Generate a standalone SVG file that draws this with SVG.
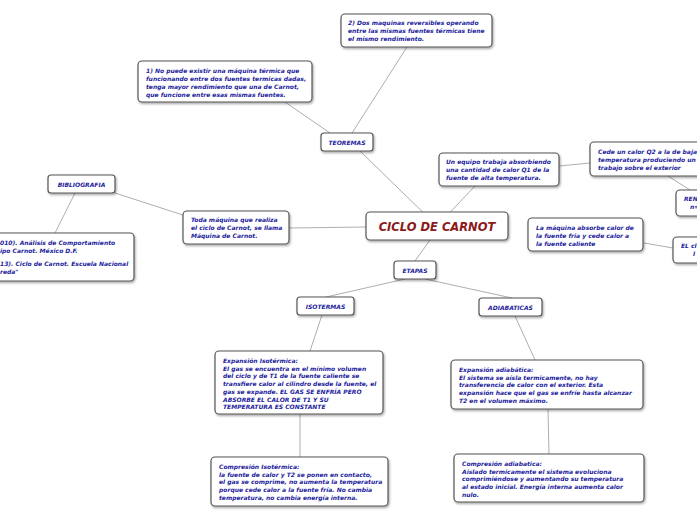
<svg xmlns="http://www.w3.org/2000/svg" width="697" height="520" viewBox="0 0 697 520">
<style>
.b{fill:#fff;stroke:#555;stroke-width:1.2}
.t{font-family:"DejaVu Sans",Verdana,sans-serif;font-size:6px;font-weight:bold;font-style:italic;fill:#1c1c9c}
.c{stroke:#999;stroke-width:0.8;fill:none}
</style>
<defs><filter id="s" x="-10%" y="-10%" width="130%" height="140%"><feDropShadow dx="1" dy="1.5" stdDeviation="1" flood-opacity="0.35"/></filter></defs>
<rect width="697" height="520" fill="#fff"/>
<g id="connectors" class="c">
<path d="M437 226L360 151M352 133L407 47M330 133L285 102M437 226L475 186M559 166L590 163M668 176L690 190M673 248L644 243M366 227L289 228M183 215L115 193M75 193L55 233M430 240L415 261M405 279L326 297M425 279L512 298M322 315L310 351M515 316L535 360M300 414L300 457M548 409L549 454"/>
</g>
<g id="center"><rect class="b" x="366" y="212" width="142" height="28" rx="4" filter="url(#s)" stroke-width="1.6"/><text x="437" y="231" text-anchor="middle" font-family="DejaVu Sans,sans-serif" font-size="11.5" font-weight="bold" font-style="italic" fill="#8b1a1a">CICLO DE CARNOT</text></g>
<g id="teoremas"><rect class="b" x="321" y="133" width="52" height="18" rx="3" filter="url(#s)"/><text class="t" x="347" y="145" text-anchor="middle">TEOREMAS</text></g>
<g id="t2"><rect class="b" x="341" y="14" width="151" height="33" rx="4" filter="url(#s)"/><text class="t" x="348" y="25">2) Dos maquinas reversibles operando<tspan x="348" dy="8">entre las mismas fuentes térmicas tiene</tspan><tspan x="348" dy="8">el mismo rendimiento.</tspan></text></g>
<g id="t1"><rect class="b" x="138" y="61" width="174" height="41" rx="4" filter="url(#s)"/><text class="t" x="146" y="73">1) No puede existir una máquina térmica que<tspan x="146" dy="8">funcionando entre dos fuentes termicas dadas,</tspan><tspan x="146" dy="8">tenga mayor rendimiento que una de Carnot,</tspan><tspan x="146" dy="8">que funcione entre esas mismas fuentes.</tspan></text></g>
<g id="equipo"><rect class="b" x="439" y="153" width="120" height="33" rx="4" filter="url(#s)"/><text class="t" x="446" y="164">Un equipo trabaja absorbiendo<tspan x="446" dy="8">una cantidad de calor Q1 de la</tspan><tspan x="446" dy="8">fuente de alta temperatura.</tspan></text></g>
<g id="cede"><rect class="b" x="590" y="142" width="115" height="34" rx="4" filter="url(#s)"/><text class="t" x="598" y="154">Cede un calor Q2 a la de baja<tspan x="598" dy="8">temperatura produciendo un</tspan><tspan x="598" dy="8">trabajo sobre el exterior</tspan></text></g>
<g id="rend"><rect class="b" x="676" y="190" width="40" height="26" rx="4" filter="url(#s)"/><text class="t" x="684" y="201">REN<tspan x="690" dy="8">n=</tspan></text></g>
<g id="maquina"><rect class="b" x="528" y="218" width="115" height="33" rx="4" filter="url(#s)"/><text class="t" x="536" y="230">La máquina absorbe calor de<tspan x="536" dy="8">la fuente fria y cede calor a</tspan><tspan x="536" dy="8">la fuente caliente</tspan></text></g>
<g id="elciclo"><rect class="b" x="673" y="237" width="40" height="26" rx="4" filter="url(#s)"/><text class="t" x="681" y="248">EL cl<tspan x="693" dy="8">l</tspan></text></g>
<g id="toda"><rect class="b" x="183" y="211" width="106" height="33" rx="4" filter="url(#s)"/><text class="t" x="191" y="222">Toda máquina que realiza<tspan x="191" dy="8">el ciclo de Carnot, se llama</tspan><tspan x="191" dy="8">Máquina de Carnot.</tspan></text></g>
<g id="biblio"><rect class="b" x="48" y="175" width="67" height="18" rx="3" filter="url(#s)"/><text class="t" x="81.5" y="187" text-anchor="middle">BIBLIOGRAFIA</text></g>
<g id="refs"><rect class="b" x="-5" y="233" width="139" height="48" rx="4" filter="url(#s)"/><text class="t" x="0" y="245">010). Análisis de Comportamiento<tspan x="0" dy="8">ipo Carnot. México D.F.</tspan><tspan x="0" dy="13">13). Ciclo de Carnot. Escuela Nacional</tspan><tspan x="0" dy="8">reda"</tspan></text></g>
<g id="etapas"><rect class="b" x="394" y="261" width="42" height="18" rx="3" filter="url(#s)"/><text class="t" x="415" y="273" text-anchor="middle">ETAPAS</text></g>
<g id="isotermas"><rect class="b" x="297" y="297" width="57" height="18" rx="3" filter="url(#s)"/><text class="t" x="325.5" y="309" text-anchor="middle">ISOTERMAS</text></g>
<g id="adiabaticas"><rect class="b" x="479" y="298" width="63" height="18" rx="3" filter="url(#s)"/><text class="t" x="510.5" y="310" text-anchor="middle">ADIABATICAS</text></g>
<g id="expiso"><rect class="b" x="215" y="351" width="168" height="63" rx="4" filter="url(#s)"/><text class="t" x="223" y="363">Expansión Isotérmica:<tspan x="223" dy="7.7">El gas se encuentra en el  mínimo volumen</tspan><tspan x="223" dy="7.7">del ciclo y de T1 de la fuente caliente se</tspan><tspan x="223" dy="7.7">transfiere calor al cilindro desde la fuente, el</tspan><tspan x="223" dy="7.7">gas se expande. EL GAS SE ENFRÍA PERO</tspan><tspan x="223" dy="7.7">ABSORBE EL CALOR DE T1 Y SU</tspan><tspan x="223" dy="7.7">TEMPERATURA ES CONSTANTE</tspan></text></g>
<g id="compiso"><rect class="b" x="211" y="457" width="177" height="49" rx="4" filter="url(#s)"/><text class="t" x="219" y="469">Compresión Isotérmica:<tspan x="219" dy="7.7">la fuente de calor y T2 se ponen en contacto,</tspan><tspan x="219" dy="7.7">el gas se comprime, no aumenta la temperatura</tspan><tspan x="219" dy="7.7">porque cede calor a la fuente fría. No cambia</tspan><tspan x="219" dy="7.7">temperatura, no cambia energía interna.</tspan></text></g>
<g id="expad"><rect class="b" x="451" y="360" width="192" height="49" rx="4" filter="url(#s)"/><text class="t" x="459" y="372">Expansión adiabática:<tspan x="459" dy="7.7">El sistema se aísla termicamente, no hay</tspan><tspan x="459" dy="7.7">transferencia de calor con el exterior. Esta</tspan><tspan x="459" dy="7.7">expansión hace que el gas se enfríe hasta alcanzar</tspan><tspan x="459" dy="7.7">T2 en el volumen máximo.</tspan></text></g>
<g id="compad"><rect class="b" x="454" y="454" width="190" height="48" rx="4" filter="url(#s)"/><text class="t" x="462" y="466">Compresión adiabatica:<tspan x="462" dy="7.7">Aislado termicamente el sistema evoluciona</tspan><tspan x="462" dy="7.7">comprimiéndose y aumentando su temperatura</tspan><tspan x="462" dy="7.7">al estado inicial. Energía interna aumenta calor</tspan><tspan x="462" dy="7.7">nulo.</tspan></text></g>
</svg>
